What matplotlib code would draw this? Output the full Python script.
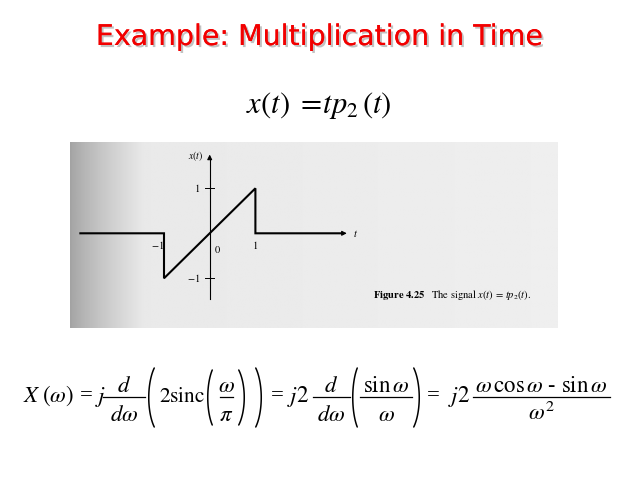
import numpy as np
import matplotlib
matplotlib.use("Agg")
import matplotlib.pyplot as plt
import matplotlib.patheffects as pe

plt.rcParams['mathtext.fontset'] = 'stix'

# señal x(t) = t p2(t)
t_sig = [-2.83, -1, -1, 1, 1, 2.9]
x_sig = [0, 0, -1, 1, 0, 0]
x_ticks = [-1, 1]
y_ticks = [-1, 1]
x_tick_labels = [r'$-1$', r'$1$']
y_tick_labels = [r'$-1$', r'$1$']

W, H = 638, 478
fig = plt.figure(figsize=(W / 100, H / 100), dpi=100)
fig.patch.set_facecolor('white')

# figura escaneada (inserto)
x0, y0, x1, y1 = 70, 142, 558, 328
ax = fig.add_axes([x0 / W, 1 - y1 / H, (x1 - x0) / W, (y1 - y0) / H])
ox, oy, sx, sy = 209.7, 233.3, 45.7, 45.0
ax.set_xlim((x0 - ox) / sx, (x1 - ox) / sx)
ax.set_ylim((oy - y1) / sy, (oy - y0) / sy)
ax.axis('off')

grad = np.linspace(0, 1, 300)
shade = 0.64 + 0.27 * np.clip(grad / 0.15, 0, 1) ** 0.8 + 0.025 * grad
img = np.tile(shade, (10, 1))
ax.imshow(img, cmap='gray', vmin=0, vmax=1, aspect='auto', extent=[*ax.get_xlim(), *ax.get_ylim()],
          zorder=0, interpolation='bilinear')

ax.plot(t_sig, x_sig, color='black', lw=1.5, solid_joinstyle='miter', zorder=3)
ax.annotate('', xy=(3.0, 0), xytext=(2.88, 0),
            arrowprops=dict(arrowstyle='-|>', color='black', lw=0.8, mutation_scale=7), zorder=3)
ax.plot([0, 0], [-1.46, 1.66], color='black', lw=0.8, zorder=3)
ax.annotate('', xy=(0, 1.75), xytext=(0, 1.63),
            arrowprops=dict(arrowstyle='-|>', color='black', lw=0.8, mutation_scale=7), zorder=3)
for yt, lab in zip(y_ticks, y_tick_labels):
    ax.plot([-0.1, 0.1], [yt, yt], color='black', lw=0.7, zorder=3)
    ax.text(-0.2, yt, lab, ha='right', va='center', fontsize=7.5)
for xt, lab in zip(x_ticks, x_tick_labels):
    ax.text(xt - (0.15 if xt < 0 else 0), -0.25, lab, ha='center', va='center', fontsize=7.5)
ax.text(0.17, -0.37, r'$0$', ha='center', va='center', fontsize=7.5)
ax.text(3.13, 0.0, r'$t$', ha='left', va='center', fontsize=7.5)
ax.text(-0.3, 1.72, r'$x(t)$', ha='center', va='center', fontsize=7)
ax.text(3.57, -1.38, r'$\mathbf{Figure\ 4.25}\quad\mathrm{The\ signal}\ x(t)\,=\,tp_2(t).$',
        ha='left', va='center', fontsize=7.6)

# capa superior en coordenadas de pixel
ov = fig.add_axes([0, 0, 1, 1], facecolor='none')
ov.set_xlim(0, W)
ov.set_ylim(H, 0)
ov.axis('off')

# titulo con sombra
ov.text(W / 2, 37, 'Example: Multiplication in Time', ha='center', va='center',
        fontsize=20.5, color='#f20000', family='DejaVu Sans',
        path_effects=[pe.withSimplePatchShadow(offset=(1.5, -1.5), shadow_rgbFace='#9a9a9a', alpha=0.6),
                      pe.Normal()])

ov.text(W / 2, 113, r'$x(t)\ =\!tp_2\,(t)$', ha='center', va='baseline', fontsize=22)

FS = 16.5
BASE = 402


def txt(x, s, y=BASE, ha='left', fs=FS):
    ov.text(x, y, s, ha=ha, va='baseline', fontsize=fs)


def igual(xc):
    ov.text(xc, BASE - 1, '=', ha='center', va='baseline', fontsize=FS, family='Liberation Serif')


def frac(xl, xr, num, den, bar=397, yn=392, yd=421):
    ov.plot([xl, xr], [bar, bar], color='black', lw=0.9)
    txt((xl + xr) / 2, num, y=yn, ha='center')
    txt((xl + xr) / 2, den, y=yd, ha='center')


def paren(xl, xr, side, top=368, bot=427, a=50):
    # parentesis alto como arco de elipse
    ang = np.radians(np.linspace(-a, a, 40))
    b = xr - xl - 1.5
    he = (bot - top) / np.sin(np.radians(a))
    we = 2 * b / (1 - np.cos(np.radians(a)))
    cy = (top + bot) / 2
    if side == 'l':
        px = xl + 0.75 + we / 2 - we / 2 * np.cos(ang)
    else:
        px = xr - 0.75 - we / 2 + we / 2 * np.cos(ang)
    ov.plot(px, cy + he / 2 * np.sin(ang), color='black', lw=1.1, solid_capstyle='round')


# transformada X(w)
txt(23, r'$X\;(\omega)$')
igual(86)
txt(95, r'$j$')
frac(103, 145, r'$d$', r'$d\omega$')
paren(148, 155, 'l')
txt(182.5, r'$2\mathrm{sinc}$', ha='center', fs=15.3)
paren(207, 213, 'l', top=370, bot=425)
frac(220, 233, r'$\omega$', r'$\pi$')
paren(238, 245, 'r', top=370, bot=425)
paren(255, 262, 'r')
igual(277.5)
txt(287, r'$j2$')
frac(313, 350, r'$d$', r'$d\omega$')
paren(352, 358, 'l')
frac(360, 412, r'$\sin\omega$', r'$\omega$')
paren(413, 420, 'r')
igual(433.5)
txt(448, r'$j2$')
frac(473, 610, r'$\omega\,\cos\omega\ \text{-}\ \sin\omega$', r'$\omega^2$', yd=420)

fig.savefig('out.png', dpi=100, facecolor='white')
